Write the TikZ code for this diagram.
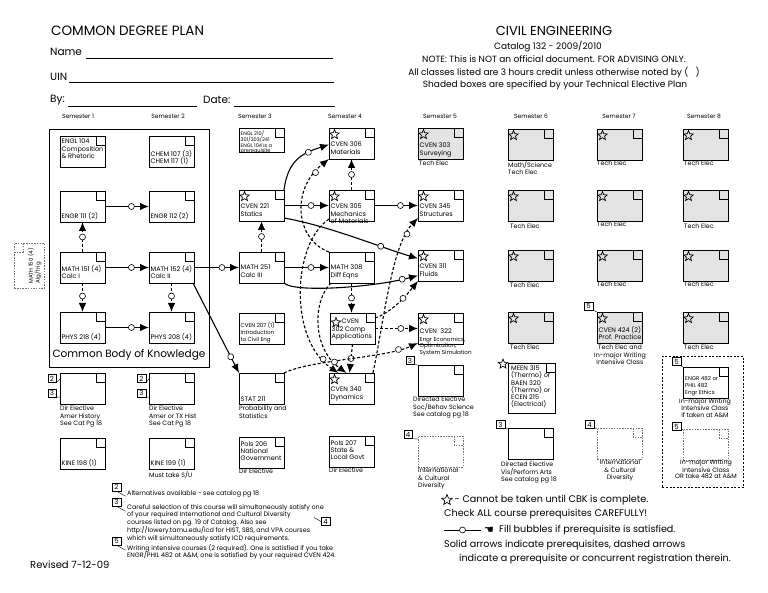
\documentclass[tikz,border=0pt]{standalone}
\usepackage{fontspec}
\setmainfont{Poppins}
\newfontfamily\symf{DejaVu Sans}
\usetikzlibrary{arrows.meta,shapes.geometric,decorations.markings}

\newcommand\fC{\fontsize{6.5}{7.3}\selectfont}
\newcommand\fS{\fontsize{5}{5.3}\selectfont}
\newcommand\fT{\fontsize{5.5}{7}\selectfont}
\newcommand\fB{\fontsize{6.3}{7.4}\selectfont}
\newcommand\fM{\fontsize{6}{7}\selectfont}
\newcommand\fH{\fontsize{10.5}{12}\selectfont}
\newcommand\fR{\fontsize{9}{10}\selectfont}
\newcommand\fG{\fontsize{9.6}{11}\selectfont}
\newcommand\fN{\fontsize{6.4}{7.8}\selectfont}

\tikzset{
 ccorner/.style={path picture={\draw[line width=0.6pt,#1] ([xshift=-9pt]path picture bounding box.north east) |- ([yshift=-9pt]path picture bounding box.north east);}},
 crs/.style={draw, line width=0.7pt, minimum width=45pt, minimum height=31pt, inner sep=0pt, outer sep=0pt, anchor=north west, ccorner=solid},
 shd/.style={fill=black!11},
 dcrs/.style={draw=black!55, line width=0.6pt, dash pattern=on 1.5pt off 1.2pt, minimum width=45pt, minimum height=31pt, inner sep=0pt, outer sep=0pt, anchor=north west, ccorner={draw=black!55, dash pattern=on 1.5pt off 1.2pt}},
 stb/.style={star, star points=5, star point ratio=2.3, draw, line width=0.7pt, minimum size=10pt, inner sep=0pt},
 ct/.style={inner sep=0pt, align=left, anchor=north west, font=\fC},
 cs/.style={inner sep=0pt, align=left, anchor=south west, font=\fC},
 bl/.style={inner sep=0pt, align=left, anchor=north west, font=\fB},
 blc/.style={inner sep=0pt, align=center, anchor=north, font=\fB},
 arr/.style={line width=1.1pt, -{Latex[length=9pt,width=7.5pt]}},
 darr/.style={arr, dash pattern=on 3pt off 2pt},
 bubat/.style={postaction={decorate}, decoration={markings, mark=at position #1 with {\draw[solid, line width=0.6pt, fill=white] (0,0) circle (3pt);}}},
 fnb/.style={draw, line width=0.4pt, inner sep=0pt, minimum width=8.5pt, minimum height=8pt, font=\fontsize{7}{7}\selectfont, fill=white},
 ldr/.style={line width=0.4pt},
 hd/.style={inner sep=0pt, anchor=west, font=\fH},
 rh/.style={inner sep=0pt, font=\fR},
 lg/.style={inner sep=0pt, anchor=west, font=\fG},
 sem/.style={inner sep=0pt, font=\fM},
}

\begin{document}
\begin{tikzpicture}[x=1pt,y=-1pt]
\useasboundingbox (0,0) rectangle (768,593);
\fill[white] (0,0) rectangle (768,593);

% ---------- header ----------
\node[inner sep=0pt, anchor=west, font=\fontsize{13.5}{14}\selectfont] (title) at (51,31) {COMMON DEGREE PLAN};
\node[hd] (name) at (50,52) {Name};
\draw[line width=0.5pt] (86,58) -- (333,58);
\node[hd] (uin) at (50,77) {UIN};
\draw[line width=0.5pt] (69,82) -- (334,82);
\node[hd] (by) at (50,100) {By:};
\draw[line width=0.5pt] (68,106) -- (197,106);
\node[hd] (date) at (203,100) {Date:};
\draw[line width=0.5pt] (234,106) -- (335,106);

\node[inner sep=0pt, font=\fontsize{13}{14}\selectfont] (civ) at (554,31) {CIVIL ENGINEERING};
\node[rh] (cat) at (548,46) {Catalog 132 - 2009/2010};
\node[rh] (note) at (554,59) {NOTE: This is NOT an official document. FOR ADVISING ONLY.};
\node[rh] (allc) at (554,72) {All classes listed are 3 hours credit unless otherwise noted by (~~~)};
\node[rh] (shdn) at (555,85) {Shaded boxes are specified by your Technical Elective Plan};

% ---------- semester labels ----------
\node[sem] (sem1) at (78,116) {Semester 1};
\node[sem] (sem2) at (168,116) {Semester 2};
\node[sem] (sem3) at (255,116) {Semester 3};
\node[sem] (sem4) at (345,116) {Semester 4};
\node[sem] (sem5) at (440,116) {Semester 5};
\node[sem] (sem6) at (531,116) {Semester 6};
\node[sem] (sem7) at (619,116) {Semester 7};
\node[sem] (sem8) at (704,116) {Semester 8};

% ---------- CBK ----------
\node[draw, line width=1.4pt, minimum width=160pt, minimum height=238pt, inner sep=0pt, anchor=north west] (cbk) at (49,129) {};
\node[inner sep=0pt, font=\fontsize{10.5}{12}\selectfont] (cbkt) at (129,355) {Common Body of Knowledge};

% MATH 150
\node[draw=black!55, line width=0.6pt, dash pattern=on 1.5pt off 1.2pt, minimum width=30pt, minimum height=45pt, inner sep=0pt, anchor=north west] (math150) at (14,243) {};
\draw[draw=black!55, line width=0.6pt, dash pattern=on 1.5pt off 1.2pt] ([yshift=-9pt]math150.north west) -| ([xshift=9pt]math150.north west);
\node[rotate=90, inner sep=0pt, align=left, font=\fT] (math150t) at (34.5,266) {MATH 150 (4)\\Alg/Trig};

% ---------- Semester 1 & 2 ----------
\node[crs] (engl104) at (60,136) {};
\node[ct] (engl104t) at ([shift={(1.5,3)}]engl104.north west) {ENGL 104\\Composition\\\& Rhetoric};
\node[crs] (chem107) at (149,136) {};
\node[cs] (chem107t) at ([shift={(1.5,-2)}]chem107.south west) {CHEM 107 (3)\\CHEM 117 (1)};
\node[crs] (engr111) at (60,191) {};
\node[cs] (engr111t) at ([shift={(1.5,-2)}]engr111.south west) {ENGR 111 (2)};
\node[crs] (engr112) at (149,191) {};
\node[cs] (engr112t) at ([shift={(1.5,-2)}]engr112.south west) {ENGR 112 (2)};
\node[crs] (math151) at (60,252) {};
\node[ct] (math151t) at ([shift={(1.5,13)}]math151.north west) {MATH 151 (4)\\Calc I};
\node[crs] (math152) at (149,252) {};
\node[ct] (math152t) at ([shift={(1.5,13)}]math152.north west) {MATH 152 (4)\\Calc II};
\node[crs] (phys218) at (60,312) {};
\node[cs] (phys218t) at ([shift={(1.5,-2)}]phys218.south west) {PHYS 218 (4)};
\node[crs] (phys208) at (149,312) {};
\node[cs] (phys208t) at ([shift={(1.5,-2)}]phys208.south west) {PHYS 208 (4)};

\node[crs] (dirh1) at (60,373) {};
\node[bl] (dirh1t) at (60,406) {Dir Elective\\Amer History\\See Cat Pg 18};
\node[crs] (dirh2) at (149,373) {};
\node[bl] (dirh2t) at (149,406) {Dir Elective\\Amer or TX Hist\\See Cat Pg 18};
\node[fnb] (c2a) at (52,378.5) {2};
\draw[ldr] (c2a.south east) -- ([yshift=-6pt]dirh1.north west);
\node[fnb] (c3a) at (52,393) {3};
\draw[ldr] (c3a.south east) -- ([yshift=-24pt]dirh1.north west);
\node[fnb] (c2b) at (141.5,378.5) {2};
\draw[ldr] (c2b.south east) -- ([yshift=-6pt]dirh2.north west);
\node[fnb] (c3b) at (141.5,393) {3};
\draw[ldr] (c3b.south east) -- ([yshift=-24pt]dirh2.north west);

\node[crs] (kine198) at (60,438) {};
\node[cs] (kine198t) at ([shift={(1.5,-2)}]kine198.south west) {KINE 198 (1)};
\node[crs] (kine199) at (149,438) {};
\node[cs] (kine199t) at ([shift={(1.5,-2)}]kine199.south west) {KINE 199 (1)};
\node[bl] (kine199b) at (149,471) {Must take S/U};

% ---------- Semester 3 ----------
\node[crs, minimum height=24pt] (engl210) at (239,128) {};
\node[ct, font=\fS] (engl210t) at ([shift={(1.5,2.5)}]engl210.north west) {ENGL 210/\\301/203/241\\ENGL 104 is a\\prerequisite};
\node[crs] (cven221) at (239,190) {};
\node[stb] (cven221s) at ([shift={(5.5,6.5)}]cven221.north west) {};
\node[ct] (cven221t) at ([shift={(1.5,14)}]cven221.north west) {CVEN 221\\Statics};
\node[crs] (math251) at (239,252) {};
\node[ct] (math251t) at ([shift={(1.5,13)}]math251.north west) {MATH 251\\Calc III};
\node[crs] (cven207) at (239,313) {};
\node[ct, font=\fT] (cven207t) at ([shift={(1.5,9.5)}]cven207.north west) {CVEN 207 (1)\\Introduction\\to Civil Eng};
\node[crs] (stat211) at (239,373) {};
\node[cs] (stat211t) at ([shift={(1.5,-2)}]stat211.south west) {STAT 211};
\node[bl] (stat211b) at (239,406) {Probability and\\Statistics};
\node[crs] (pols206) at (239,437) {};
\node[ct] (pols206t) at ([shift={(1.5,4)}]pols206.north west) {Pols 206\\National\\Government};
\node[bl] (pols206b) at (239,469) {Dir Elective};

% ---------- Semester 4 ----------
\node[crs] (cven306) at (329,128) {};
\node[stb] (cven306s) at ([shift={(5.5,6.5)}]cven306.north west) {};
\node[ct] (cven306t) at ([shift={(1.5,14)}]cven306.north west) {CVEN 306\\Materials};
\node[crs] (cven305) at (329,190) {};
\node[stb] (cven305s) at ([shift={(5.5,6.5)}]cven305.north west) {};
\node[ct] (cven305t) at ([shift={(1.5,14)}]cven305.north west) {CVEN 305\\Mechanics\\of Materials};
\node[crs] (math308) at (329,252) {};
\node[ct] (math308t) at ([shift={(1.5,13)}]math308.north west) {MATH 308\\Diff Eqns};
\node[crs] (cven302) at (330,313) {};
\node[stb] (cven302s) at ([shift={(6,9.5)}]cven302.north west) {};
\node[ct] (cven302t) at ([shift={(1.5,6)}]cven302.north west) {\hspace*{10pt}CVEN\\302 Comp\\Applications};
\node[crs] (cven340) at (329,373) {};
\node[stb] (cven340s) at ([shift={(5.5,6.5)}]cven340.north west) {};
\node[ct] (cven340t) at ([shift={(1.5,14)}]cven340.north west) {CVEN 340\\Dynamics};
\node[crs] (pols207) at (329,436) {};
\node[ct] (pols207t) at ([shift={(1.5,4)}]pols207.north west) {Pols 207\\State \&\\Local Govt};
\node[bl] (pols207b) at (329,468) {Dir Elective};

% ---------- Semester 5 ----------
\node[crs, shd] (cven303) at (418,128) {};
\node[stb] (cven303s) at ([shift={(5.5,6.5)}]cven303.north west) {};
\node[ct] (cven303t) at ([shift={(1.5,15)}]cven303.north west) {CVEN 303\\Surveying};
\node[bl] (cven303b) at (419,161) {Tech Elec};
\node[crs] (cven345) at (418,190) {};
\node[stb] (cven345s) at ([shift={(5.5,6.5)}]cven345.north west) {};
\node[ct] (cven345t) at ([shift={(1.5,14)}]cven345.north west) {CVEN 345\\Structures};
\node[crs] (cven311) at (418,250) {};
\node[stb] (cven311s) at ([shift={(5.5,6.5)}]cven311.north west) {};
\node[ct] (cven311t) at ([shift={(1.5,14)}]cven311.north west) {CVEN 311\\Fluids};
\node[crs] (cven322) at (418,313) {};
\node[stb] (cven322s) at ([shift={(5.5,6.5)}]cven322.north west) {};
\node[ct] (cven322t) at ([shift={(1.5,16)}]cven322.north west) {CVEN~~322};
\node[ct, font=\fontsize{5.6}{6.4}\selectfont] (cven322b) at (419.5,337) {Engr Economics,\\Optimization,\\System Simulation};
\node[crs] (dirsoc) at (418,365) {};
\node[fnb] (c3c) at (410,360.5) {3};
\draw[ldr] (c3c.south east) -- (dirsoc.north west);
\node[bl] (dirsoct) at (413,397) {Directed Elective\\Soc/Behav Science\\See catalog pg 18};
\node[dcrs] (intl5) at (418,436) {};
\node[fnb] (c4a) at (408,434.5) {4};
\draw[ldr] (c4a.south east) -- ([yshift=-3pt]intl5.north west);
\node[bl] (intl5t) at (418,468) {International\\\& Cultural\\Diversity};

% ---------- Semester 6 ----------
\node[crs, shd] (s6a) at (508,129) {};
\node[stb] (s6as) at ([shift={(5.5,6.5)}]s6a.north west) {};
\node[bl] (s6at) at (508,161) {Math/Science\\Tech Elec};
\node[crs, shd] (s6b) at (508,190) {};
\node[stb] (s6bs) at ([shift={(5.5,6.5)}]s6b.north west) {};
\node[bl] (s6bt) at (510,224) {Tech Elec};
\node[crs, shd] (s6c) at (508,250) {};
\node[stb] (s6cs) at ([shift={(5.5,6.5)}]s6c.north west) {};
\node[bl] (s6ct) at (510,283) {Tech Elec};
\node[crs, shd] (s6d) at (508,312) {};
\node[stb] (s6ds) at ([shift={(5.5,6.5)}]s6d.north west) {};
\node[bl] (s6dt) at (510,345) {Tech Elec};
\node[crs, minimum width=47pt, minimum height=50pt] (meen) at (508,363) {};
\node[stb] (meens) at (503,364) {};
\node[ct] (meent) at ([shift={(3,2.5)}]meen.north west) {MEEN 315\\(Thermo) or\\BAEN 320\\(Thermo) or\\ECEN 215\\(Electrical)};
\node[crs] (dirvis) at (508,428) {};
\node[fnb] (c3d) at (500.5,424.5) {3};
\draw[ldr] (c3d.south east) -- (dirvis.north west);
\node[bl] (dirvist) at (501,462) {Directed Elective\\Vis/Perform Arts\\See catalog pg 18};

% ---------- Semester 7 ----------
\node[crs, shd] (s7a) at (597,129) {};
\node[stb] (s7as) at ([shift={(5.5,6.5)}]s7a.north west) {};
\node[bl] (s7at) at (597,161) {Tech Elec};
\node[crs, shd] (s7b) at (597,190) {};
\node[stb] (s7bs) at ([shift={(5.5,6.5)}]s7b.north west) {};
\node[bl] (s7bt) at (597,222) {Tech Elec};
\node[crs, shd] (s7c) at (597,250) {};
\node[stb] (s7cs) at ([shift={(5.5,6.5)}]s7c.north west) {};
\node[bl] (s7ct) at (597,282) {Tech Elec};
\node[crs, shd] (cven424) at (597,312) {};
\node[stb] (cven424s) at ([shift={(5.5,6.5)}]cven424.north west) {};
\node[ct] (cven424t) at ([shift={(1.5,14)}]cven424.north west) {CVEN 424 (2)\\Prof. Practice};
\node[fnb] (c5a) at (588.5,306) {5};
\draw[ldr] (c5a.south east) -- (cven424.north west);
\node[blc] (cven424b) at (620,345) {Tech Elec and\\In-major Writing\\Intensive Class};
\node[dcrs] (intl7) at (597,428) {};
\node[fnb] (c4b) at (589.5,424.5) {4};
\draw[ldr] (c4b.south east) -- (intl7.north west);
\node[blc] (intl7t) at (620,460) {International\\\& Cultural\\Diversity};

% ---------- Semester 8 ----------
\node[crs, shd] (s8a) at (683,129) {};
\node[stb] (s8as) at ([shift={(5.5,6.5)}]s8a.north west) {};
\node[bl] (s8at) at (684,161) {Tech Elec};
\node[crs, shd] (s8b) at (683,190) {};
\node[stb] (s8bs) at ([shift={(5.5,6.5)}]s8b.north west) {};
\node[bl] (s8bt) at (684,224) {Tech Elec};
\node[crs, shd] (s8c) at (683,250) {};
\node[stb] (s8cs) at ([shift={(5.5,6.5)}]s8c.north west) {};
\node[bl] (s8ct) at (684,282) {Tech Elec};
\node[crs, shd] (s8d) at (683,312) {};
\node[stb] (s8ds) at ([shift={(5.5,6.5)}]s8d.north west) {};
\node[bl] (s8dt) at (684,345) {Tech Elec};
\node[draw, line width=0.7pt, dash pattern=on 2pt off 1.6pt, minimum width=81pt, minimum height=131pt, inner sep=0pt, anchor=north west] (wibox) at (662,356) {};
\node[crs] (engr482) at (683,367) {};
\node[ct, font=\fT] (engr482t) at ([shift={(2,9)}]engr482.north west) {ENGR 482 or\\PHIL 482\\Engr Ethics};
\node[fnb] (c5b) at (676.5,361.5) {5};
\draw[ldr] (c5b.south east) -- (engr482.north west);
\node[blc, font=\fontsize{6.3}{7}\selectfont] (engr482b) at (705,399) {In-major Writing\\Intensive Class\\if taken at A\&M};
\node[dcrs] (wi8) at (683,429) {};
\node[fnb] (c5c) at (676.5,426.5) {5};
\draw[ldr] (c5c.south east) -- (wi8.north west);
\node[blc, font=\fontsize{6.3}{6.2}\selectfont] (wi8t) at (706,460) {In-major Writing\\Intensive Class\\OR take 482 at A\&M};

% ---------- connectors ----------
\draw[arr, bubat=0.6] (engr111.east) -- (engr112.west);
\draw[darr, bubat=0.5] (math151.north) -- (engr111.south);
\draw[arr, bubat=0.6] (math151.east) -- (math152.west);
\draw[darr, bubat=0.45] (math151.south) -- (phys218.north);
\draw[darr, bubat=0.45] (math152.south) -- (phys208.north);
\draw[arr, bubat=0.6] (phys218.east) -- (phys208.west);
\draw[arr, bubat=0.62] (math152.east) -- (math251.west);
\draw[arr, bubat=0.82] ([xshift=-1pt]math152.south east) -- (stat211.north west);
\draw[darr, bubat=0.5] (math251.north) -- (cven221.south);
\draw[arr, bubat=0.6] (math251.east) -- (math308.west);
\draw[arr, bubat=0.6] (cven221.east) -- (cven305.west);
\draw[arr, bubat=0.68] (cven221.north east) .. controls +(4,-32) and +(-24,8) .. ([yshift=-1pt]cven306.west);
\draw[arr, bubat=0.72] ([yshift=3pt]cven221.south east) .. controls +(45,8) and +(-40,-12) .. ([yshift=7pt]cven311.west);
\draw[arr, bubat=0.6] (cven305.east) -- (cven345.west);
\draw[darr, bubat=0.5] (cven305.north) -- (cven306.south);
\draw[arr, bubat=0.88] (math251.south east) .. controls +(10,10) and +(-45,12) .. ([yshift=-10pt]cven311.west);
\draw[darr, bubat=0.5] (math308.south) -- ([xshift=-1pt]cven302.north);
\draw[darr, bubat=0.6] ([yshift=-5pt]cven302.north east) .. controls +(17,-6) and +(-13,16) .. (cven311.south west);
\draw[darr, bubat=0.6] (cven302.east) -- (cven322.west);
\draw[darr, bubat=0.5] (cven302.south) -- ([xshift=-2pt]cven340.north);
\draw[darr, bubat=0.85] (stat211.north east) .. controls +(26,-13) and +(-33,15) .. ([yshift=1pt]cven322.south west);
\draw[darr, bubat=0.88] ([xshift=-1pt]cven340.north east) .. controls +(11,-53) and +(-26,27) .. ([yshift=3pt]cven345.south west);
\draw[darr, bubat=0.83] (math308.north west) .. controls +(-33,-12) and +(-39,31) .. (cven306.south west);
\draw[darr, bubat=0.88] ([yshift=2pt]cven305.south west) .. controls +(-37,25) and +(-50,-33) .. ([xshift=-13pt]cven340.north);
\draw[darr, bubat=0.84] ([xshift=2pt]math308.south west) .. controls +(-18,17) and +(-35,-25) .. ([xshift=-5pt]cven340.north);

% ---------- footnotes ----------
\node[fnb] (f2) at (116.5,487) {2};
\draw[ldr] (f2.south) -- ++(9,5);
\node[inner sep=0pt, anchor=west, font=\fN] (f2t) at (127,494) {Alternatives available - see catalog pg 18};
\node[fnb] (f3) at (116.5,502) {3};
\draw[ldr] (f3.south) -- ++(9,5);
\node[inner sep=0pt, anchor=north west, align=left, font=\fN] (f3t) at (127,504) {Careful selection of this course will simultaneously satisfy one\\of your required International and Cultural Diversity\\courses listed on pg. 19 of Catalog. Also see\\http://lowery.tamu.edu/icd for HIST, SBS, and VPA courses\\which will simultaneously satisfy ICD requirements.};
\node[fnb] (f4) at (325.5,521.5) {4};
\draw[ldr] (f4.west) -- ++(-7,-4);
\node[fnb] (f5) at (116.5,541) {5};
\draw[ldr] (f5.south) -- ++(9,5);
\node[inner sep=0pt, anchor=north west, align=left, font=\fN] (f5t) at (127,544) {Writing intensive courses (2 required). One is satisfied if you take\\ENGR/PHIL 482 at A\&M, one is satisfied by your required CVEN 424.};
\node[inner sep=0pt, anchor=west, font=\fontsize{10}{12}\selectfont] (rev) at (30,565) {Revised 7-12-09};

% ---------- legend ----------
\node[stb, minimum size=11pt] (lgs) at (447,500) {};
\node[lg] (lg1) at (454.5,500) {- Cannot be taken until CBK is complete.};
\node[lg] (lg2) at (444,514) {Check ALL course prerequisites CAREFULLY!};
\coordinate (lb1) at (444,530);
\coordinate (lb2) at (481,530);
\draw[line width=1pt, bubat=0.5] (lb1) -- (lb2);
\node[inner sep=0pt, anchor=west, font=\symf\fontsize{11}{12}\selectfont] (hand) at (484,530) {☚};
\node[lg] (lg3) at (499,530) {Fill bubbles if prerequisite is satisfied.};
\node[lg] (lg4) at (444,545) {Solid arrows indicate prerequisites, dashed arrows};
\node[lg] (lg5) at (459,559) {indicate a prerequisite or concurrent registration therein.};
\end{tikzpicture}
\end{document}
